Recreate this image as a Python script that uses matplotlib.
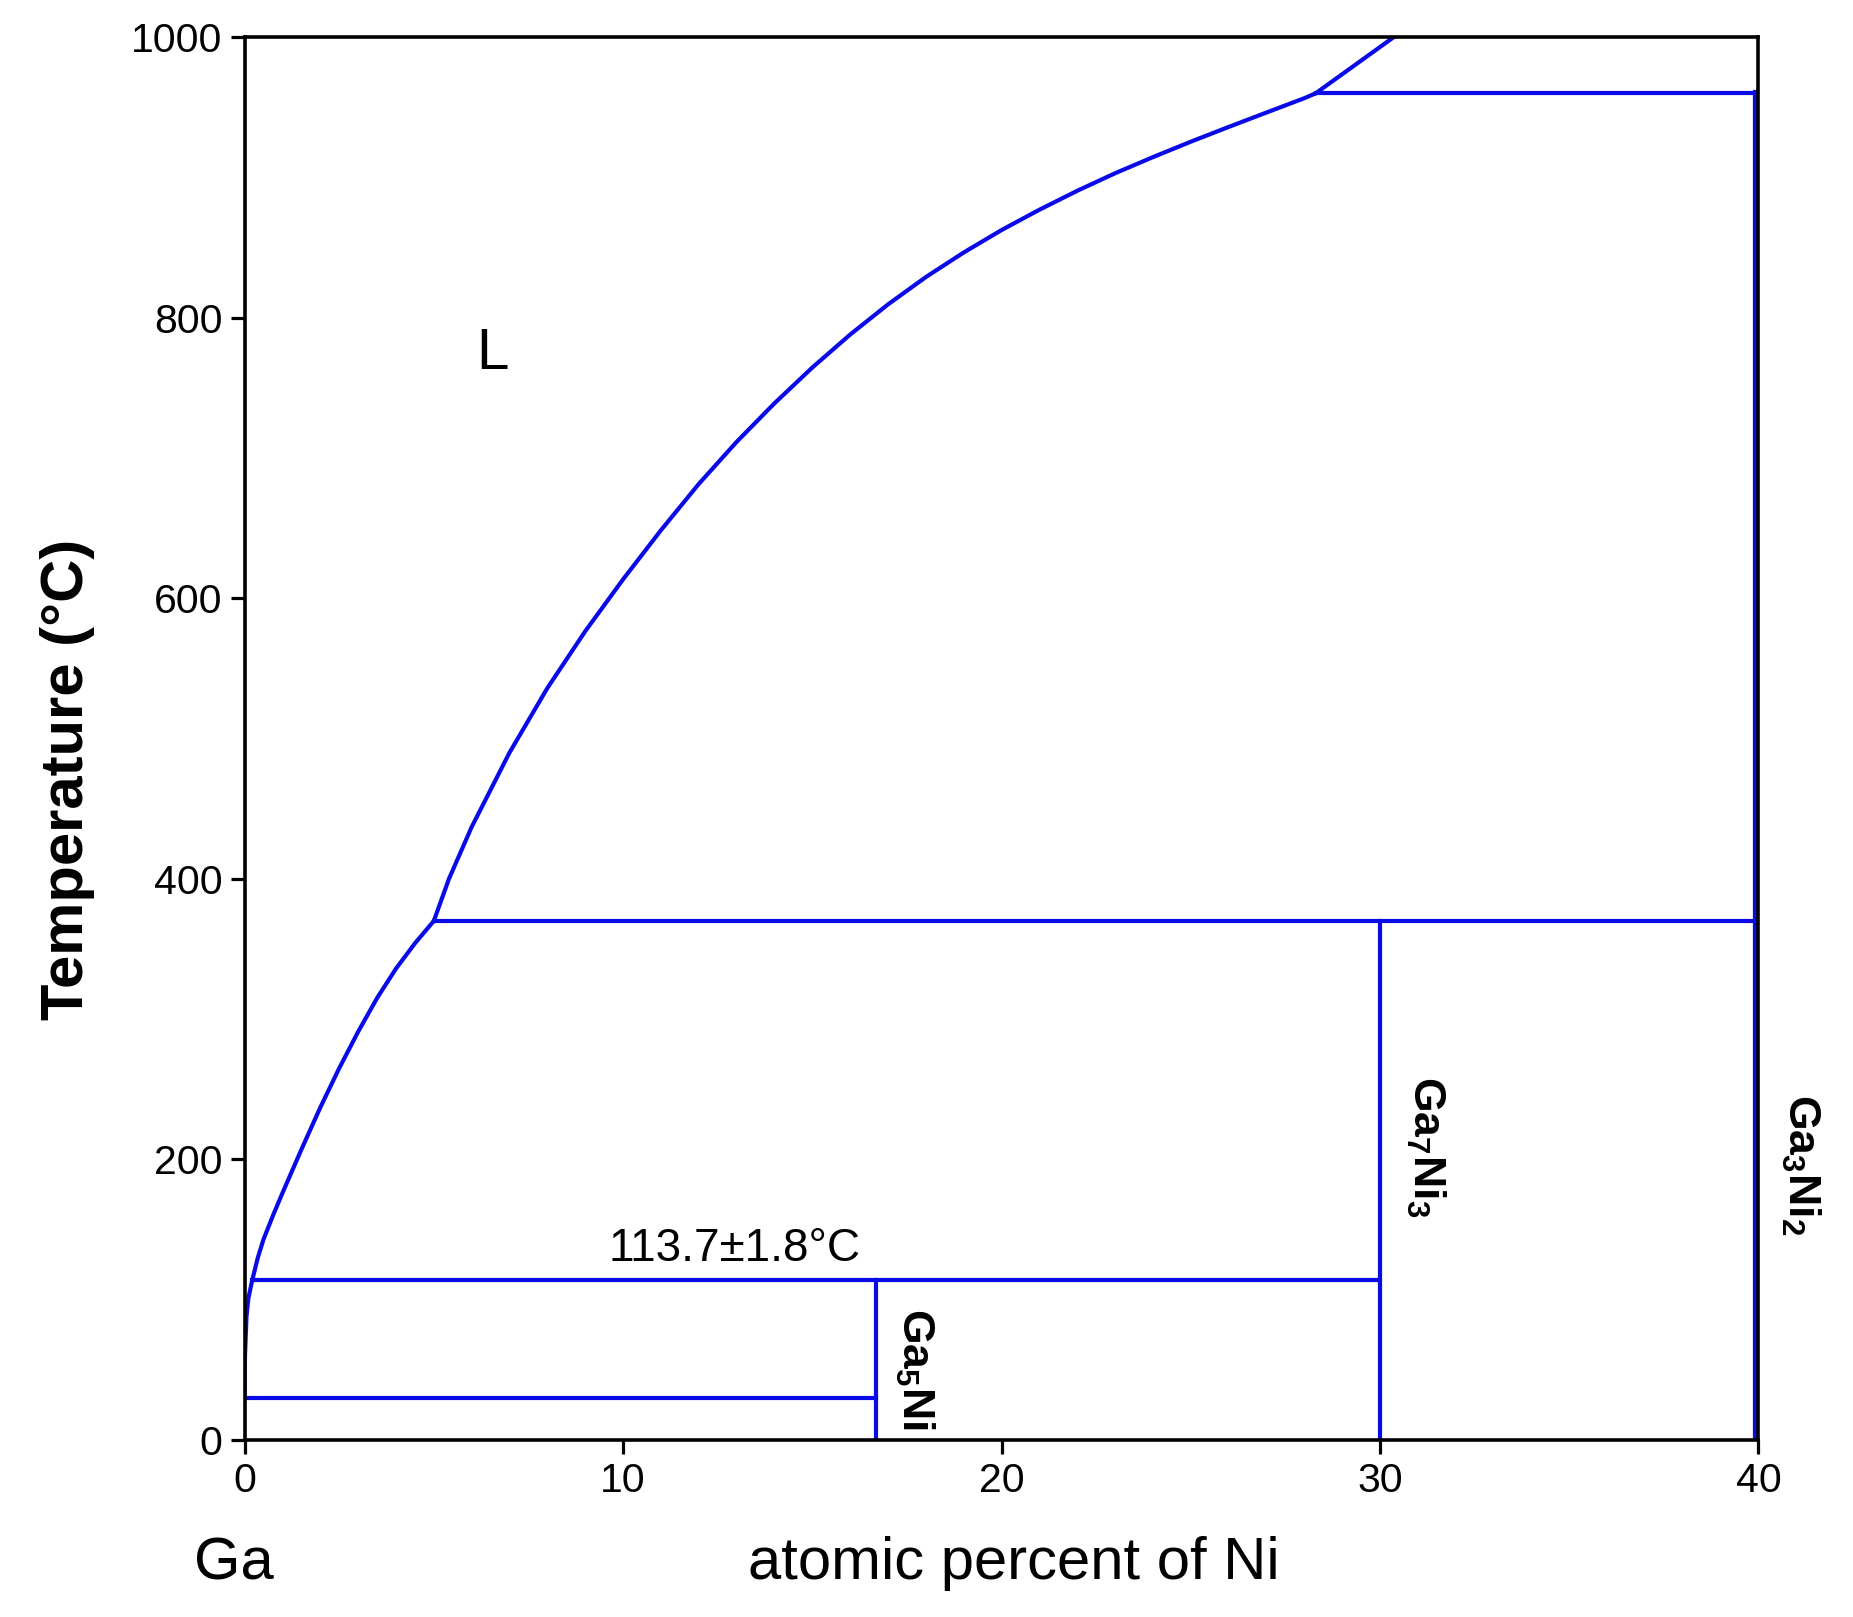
import matplotlib
matplotlib.use("Agg")
import matplotlib.pyplot as plt

# ---- data ----
liq_low_x = [0.0, 0.01, 0.05, 0.1, 0.2, 0.35, 0.5, 0.75, 1.0, 1.5, 2.0, 2.5, 3.0, 3.5, 4.0, 4.5, 5.0]
liq_low_t = [29.8, 60, 88, 101, 113.7, 130, 143, 160, 176, 207, 237, 265, 291, 315, 336, 354, 370]

liq_mid_x = [5.0, 5.4, 6, 7, 8, 9, 10, 11, 12, 13, 14, 15, 16, 17, 18, 19,
             20, 21, 22, 23, 24, 25, 26, 27, 28, 28.3]
liq_mid_t = [370, 400, 437, 490, 536, 576.5, 613.5, 648.5, 681.5, 711.5, 739, 764.5, 788, 809.5, 829, 846.5,
             862.5, 877, 890.5, 903, 914.5, 925.5, 936, 946.3, 956.5, 960]

liq_top_x = [28.3, 30.36]
liq_top_t = [960, 1000]

# horizontal invariant lines: (x_start, x_end, temperature)
horiz_x0 = [0.0, 0.2, 5.0, 28.3]
horiz_x1 = [16.67, 30.0, 40.0, 40.0]
horiz_t = [29.8, 113.7, 370, 960]

# compounds: (composition, top temperature)
comp_x = [16.67, 30.0, 39.93]
comp_t = [113.7, 370, 960]
comp_lw = [3.0, 3.0, 4.5]
comp_labels = [r"$\mathbf{Ga_5Ni}$", r"$\mathbf{Ga_7Ni_3}$", r"$\mathbf{Ga_3Ni_2}$"]
comp_label_x = [17.7, 31.2, 41.1]
comp_label_t = [51, 209, 196]

xticks = [0, 10, 20, 30, 40]
yticks = [0, 200, 400, 600, 800, 1000]

blue = "#0a0ae8"

plt.rcParams['font.family'] = ['Liberation Sans', 'DejaVu Sans']
plt.rcParams['mathtext.fontset'] = 'custom'
plt.rcParams['mathtext.rm'] = 'Liberation Sans'
plt.rcParams['mathtext.bf'] = 'Liberation Sans:bold'
plt.rcParams['mathtext.it'] = 'Liberation Sans:italic'

fig = plt.figure(figsize=(18.53, 16.17), dpi=100)
ax = fig.add_axes([0.132, 0.1095, 0.949 - 0.132, 0.977 - 0.1095])

ax.plot(liq_low_x, liq_low_t, color=blue, lw=3.0, solid_joinstyle='round')
ax.plot(liq_mid_x, liq_mid_t, color=blue, lw=3.0, solid_joinstyle='round')
ax.plot(liq_top_x, liq_top_t, color=blue, lw=3.0)

for x0, x1, t in zip(horiz_x0, horiz_x1, horiz_t):
    ax.plot([x0, x1], [t, t], color=blue, lw=3.0)

for x, t, lw in zip(comp_x, comp_t, comp_lw):
    ax.plot([x, x], [0, t], color=blue, lw=lw)

for lab, x, t in zip(comp_labels, comp_label_x, comp_label_t):
    ax.text(x, t, lab, rotation=270, ha='center', va='center', fontsize=32,
            clip_on=False)

ax.text(6.55, 774, "L", fontsize=42, ha='center', va='center')
ax.text(12.95, 136, "113.7±1.8°C", fontsize=33, ha='center', va='center')

ax.set_xlim(0, 40)
ax.set_ylim(0, 1000)
ax.set_xticks(xticks)
ax.set_yticks(yticks)
ax.tick_params(direction='out', length=10, width=2.3, labelsize=29.5, pad=6)
for s in ax.spines.values():
    s.set_linewidth(2.6)

fig.text(0.0365, 0.518, "Temperature (°C)", rotation=90, ha='center', va='center',
         fontsize=43, fontweight='bold')
fig.text(0.547, 0.033, "atomic percent of Ni", ha='center', va='center', fontsize=43)
fig.text(0.1263, 0.033, "Ga", ha='center', va='center', fontsize=43)

fig.savefig("out.png", dpi=100)
